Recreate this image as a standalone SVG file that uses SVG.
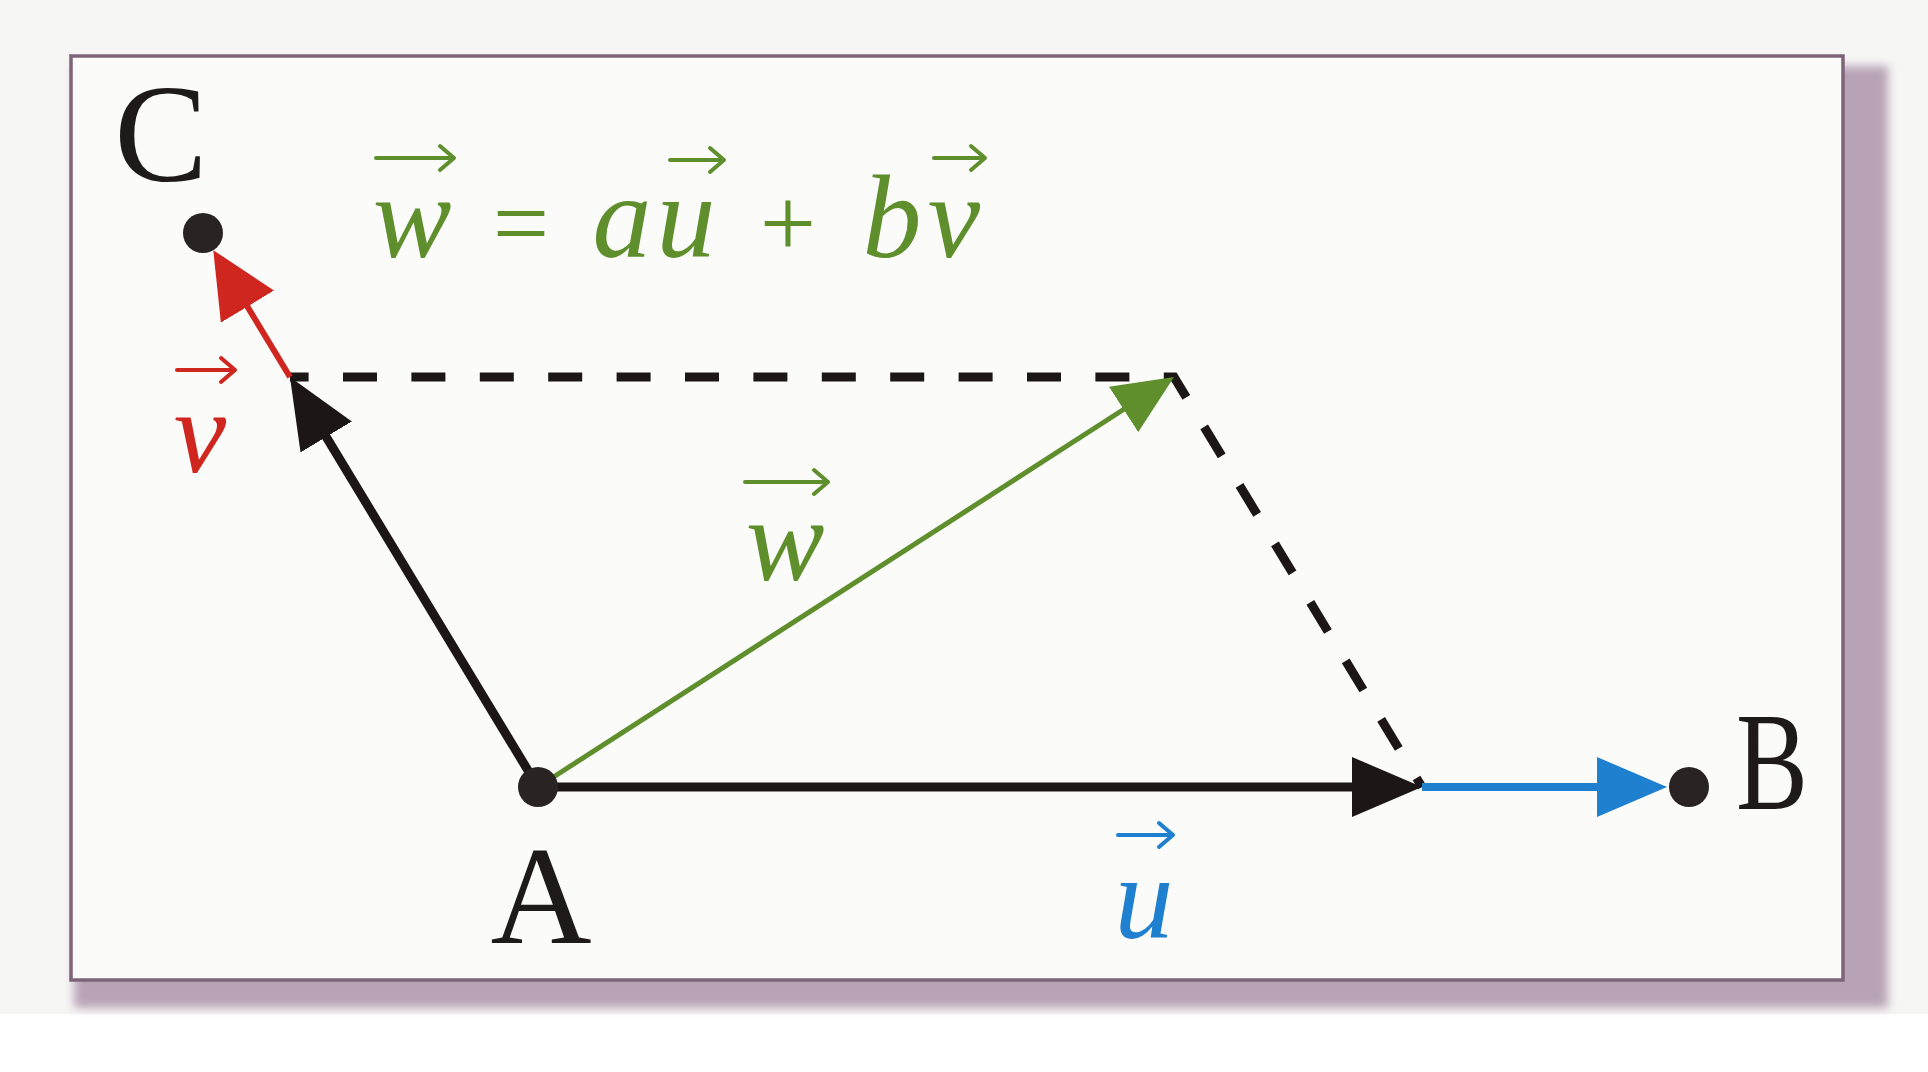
<svg xmlns="http://www.w3.org/2000/svg" width="1928" height="1072" viewBox="0 0 1928 1072">
<style>
.pt{font-family:"Liberation Serif",serif;font-size:140px;fill:#1e1a1a}
.it{font-family:"Liberation Serif",serif;font-style:italic;font-size:118px}
.up{font-family:"Liberation Serif",serif;font-size:100px}
.green{fill:#5f8f2c}
.red{fill:#d02620}
.blue{fill:#1f80d0}
.va{fill:none;stroke-width:4;stroke-linecap:round;stroke-linejoin:round}
.dot{fill:#2a2324}
</style>
<defs>
<filter id="blur" x="-5%" y="-5%" width="110%" height="110%"><feGaussianBlur stdDeviation="5"/></filter>
<marker id="ahBlack" markerUnits="userSpaceOnUse" viewBox="0 0 70 60" markerWidth="70" markerHeight="60" refX="40" refY="30" orient="auto"><path d="M0,0 L70,30 L0,60 z" fill="#1c1616"/></marker>
<marker id="ahBlue" markerUnits="userSpaceOnUse" viewBox="0 0 70 60" markerWidth="70" markerHeight="60" refX="40" refY="30" orient="auto"><path d="M0,0 L70,30 L0,60 z" fill="#1f80d0"/></marker>
<marker id="ahRed" markerUnits="userSpaceOnUse" viewBox="0 0 66 62" markerWidth="66" markerHeight="62" refX="36" refY="31" orient="auto"><path d="M0,0 L66,31 L0,62 z" fill="#d02620"/></marker>
<marker id="ahGreen" markerUnits="userSpaceOnUse" viewBox="0 0 60 54" markerWidth="60" markerHeight="54" refX="35" refY="27" orient="auto"><path d="M0,0 L60,27 L0,54 z" fill="#5f8f2c"/></marker>
</defs>
<rect x="0" y="0" width="1928" height="1072" fill="#f6f6f4"/>
<rect x="0" y="1014" width="1928" height="58" fill="#ffffff"/>
<g id="frame">
<rect x="74" y="66" width="1814" height="942" fill="#b8a3b6" filter="url(#blur)"/>
<rect x="71" y="56" width="1772" height="924" fill="#fbfbfa" stroke="#7d6478" stroke-width="3.5"/>
</g>
<g id="connectors">
<polyline id="dashed" points="290,377 1174,377 1422,787" fill="none" stroke="#1c1616" stroke-width="9" stroke-dasharray="34 34.4" stroke-dashoffset="15.4"/>
<line id="vec-u" x1="538" y1="787" x2="1392" y2="787" stroke="#1c1616" stroke-width="9" marker-end="url(#ahBlack)"/>
<line id="vec-v" x1="538" y1="787" x2="305.5" y2="402.7" stroke="#1c1616" stroke-width="9" marker-end="url(#ahBlack)"/>
<line id="ext-u" x1="1422" y1="787" x2="1637" y2="787" stroke="#1f80d0" stroke-width="8" marker-end="url(#ahBlue)"/>
<line id="ext-v" x1="290" y1="377" x2="228.8" y2="275.8" stroke="#d02620" stroke-width="6" marker-end="url(#ahRed)"/>
<line id="vec-w" x1="538" y1="787" x2="1153" y2="390.5" stroke="#5f8f2c" stroke-width="5" marker-end="url(#ahGreen)"/>
</g>
<g id="node-A">
<circle class="dot" cx="538" cy="787" r="20"/>
<text class="pt" x="541" y="943" text-anchor="middle">A</text>
</g>
<g id="node-B">
<circle class="dot" cx="1689" cy="787" r="20"/>
<text class="pt" x="1736" y="809" textLength="72" lengthAdjust="spacingAndGlyphs">B</text>
</g>
<g id="node-C">
<circle class="dot" cx="203" cy="233" r="20"/>
<text class="pt" x="161" y="181" text-anchor="middle">C</text>
</g>
<g id="label-equation">
<text class="it green" x="412" y="257" text-anchor="middle">w</text>
<path class="va" stroke="#5f8f2c" d="M376,158 L454,158 M440,146 L454,158 L440,170"/>
<text class="up green" x="521" y="257" text-anchor="middle">=</text>
<text class="it green" x="622" y="257" text-anchor="middle">a</text>
<text class="it green" x="686" y="257" text-anchor="middle">u</text>
<path class="va" stroke="#5f8f2c" d="M670,160 L724,160 M710,148 L724,160 L710,172"/>
<text class="up green" x="788" y="257" text-anchor="middle">+</text>
<text class="it green" x="892" y="257" text-anchor="middle">b</text>
<text class="it green" x="954" y="257" text-anchor="middle">v</text>
<path class="va" stroke="#5f8f2c" d="M934,158 L985,158 M971,146 L985,158 L971,170"/>
</g>
<g id="label-w">
<text class="it green" x="785" y="580" text-anchor="middle">w</text>
<path class="va" stroke="#5f8f2c" d="M745,482 L828,482 M814,470 L828,482 L814,494"/>
</g>
<g id="label-v">
<text class="it red" x="200" y="472" text-anchor="middle">v</text>
<path class="va" stroke="#d02620" d="M177,370 L235,370 M221,358 L235,370 L221,382"/>
</g>
<g id="label-u">
<text class="it blue" x="1144" y="938" text-anchor="middle">u</text>
<path class="va" stroke="#1f80d0" d="M1118,835 L1173,835 M1159,823 L1173,835 L1159,847"/>
</g>
</svg>
